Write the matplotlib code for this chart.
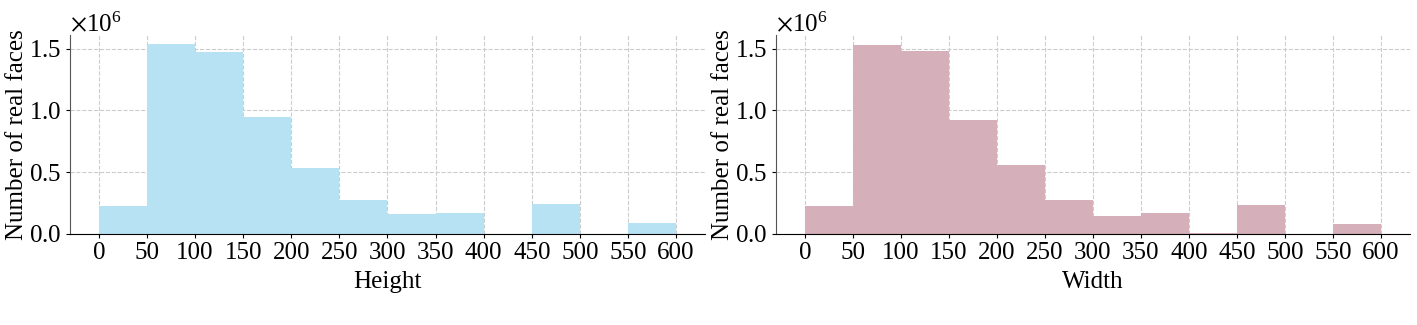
import matplotlib
matplotlib.use("Agg")
import matplotlib.pyplot as plt
from matplotlib.ticker import ScalarFormatter
import numpy as np

plt.rcParams['font.family'] = ['Liberation Serif', 'DejaVu Serif']
plt.rcParams['mathtext.fontset'] = 'stix'

bin_edges = [0, 50, 100, 150, 200, 250, 300, 350, 400, 450, 500, 550, 600]
height_counts = [0.227e6, 1.54e6, 1.476e6, 0.95e6, 0.535e6, 0.276e6, 0.158e6, 0.166e6, 0.0, 0.242e6, 0.0, 0.089e6]
width_counts = [0.23e6, 1.53e6, 1.485e6, 0.925e6, 0.555e6, 0.275e6, 0.146e6, 0.17e6, 0.01e6, 0.235e6, 0.003e6, 0.084e6]
xticks = [0, 50, 100, 150, 200, 250, 300, 350, 400, 450, 500, 550, 600]

fig = plt.figure(figsize=(14.17, 3.25), dpi=100)
ax1 = fig.add_axes([0.0494, 0.28, 0.4481, 0.612])
ax2 = fig.add_axes([0.5476, 0.28, 0.4474, 0.612])

def draw(ax, counts, color, xlabel):
    edges = np.array(bin_edges)
    ax.bar(edges[:-1], counts, width=np.diff(edges), align='edge', color=color, edgecolor='none', zorder=2)
    ax.set_xlim(-30, 630)
    ax.set_ylim(0, 1.61e6)
    ax.set_xticks(xticks)
    ax.set_yticks([0, 0.5e6, 1.0e6, 1.5e6])
    fmt = ScalarFormatter(useMathText=True)
    fmt.set_powerlimits((0, 0))
    ax.yaxis.set_major_formatter(fmt)
    ax.yaxis.get_offset_text().set_fontsize(18)
    ax.grid(True, linestyle='--', color='#cccccc', linewidth=0.8, zorder=0)
    ax.set_axisbelow(True)
    ax.spines['top'].set_visible(False)
    ax.spines['right'].set_visible(False)
    ax.spines['left'].set_color('#555555')
    ax.tick_params(labelsize=18, length=3, pad=3)
    ax.set_xlabel(xlabel, fontsize=18, labelpad=5)
    ax.set_ylabel('Number of real faces', fontsize=18, labelpad=1)

draw(ax1, height_counts, '#b7e2f3', 'Height')
draw(ax2, width_counts, '#d5afb9', 'Width')

fig.savefig('out.png', dpi=100)
